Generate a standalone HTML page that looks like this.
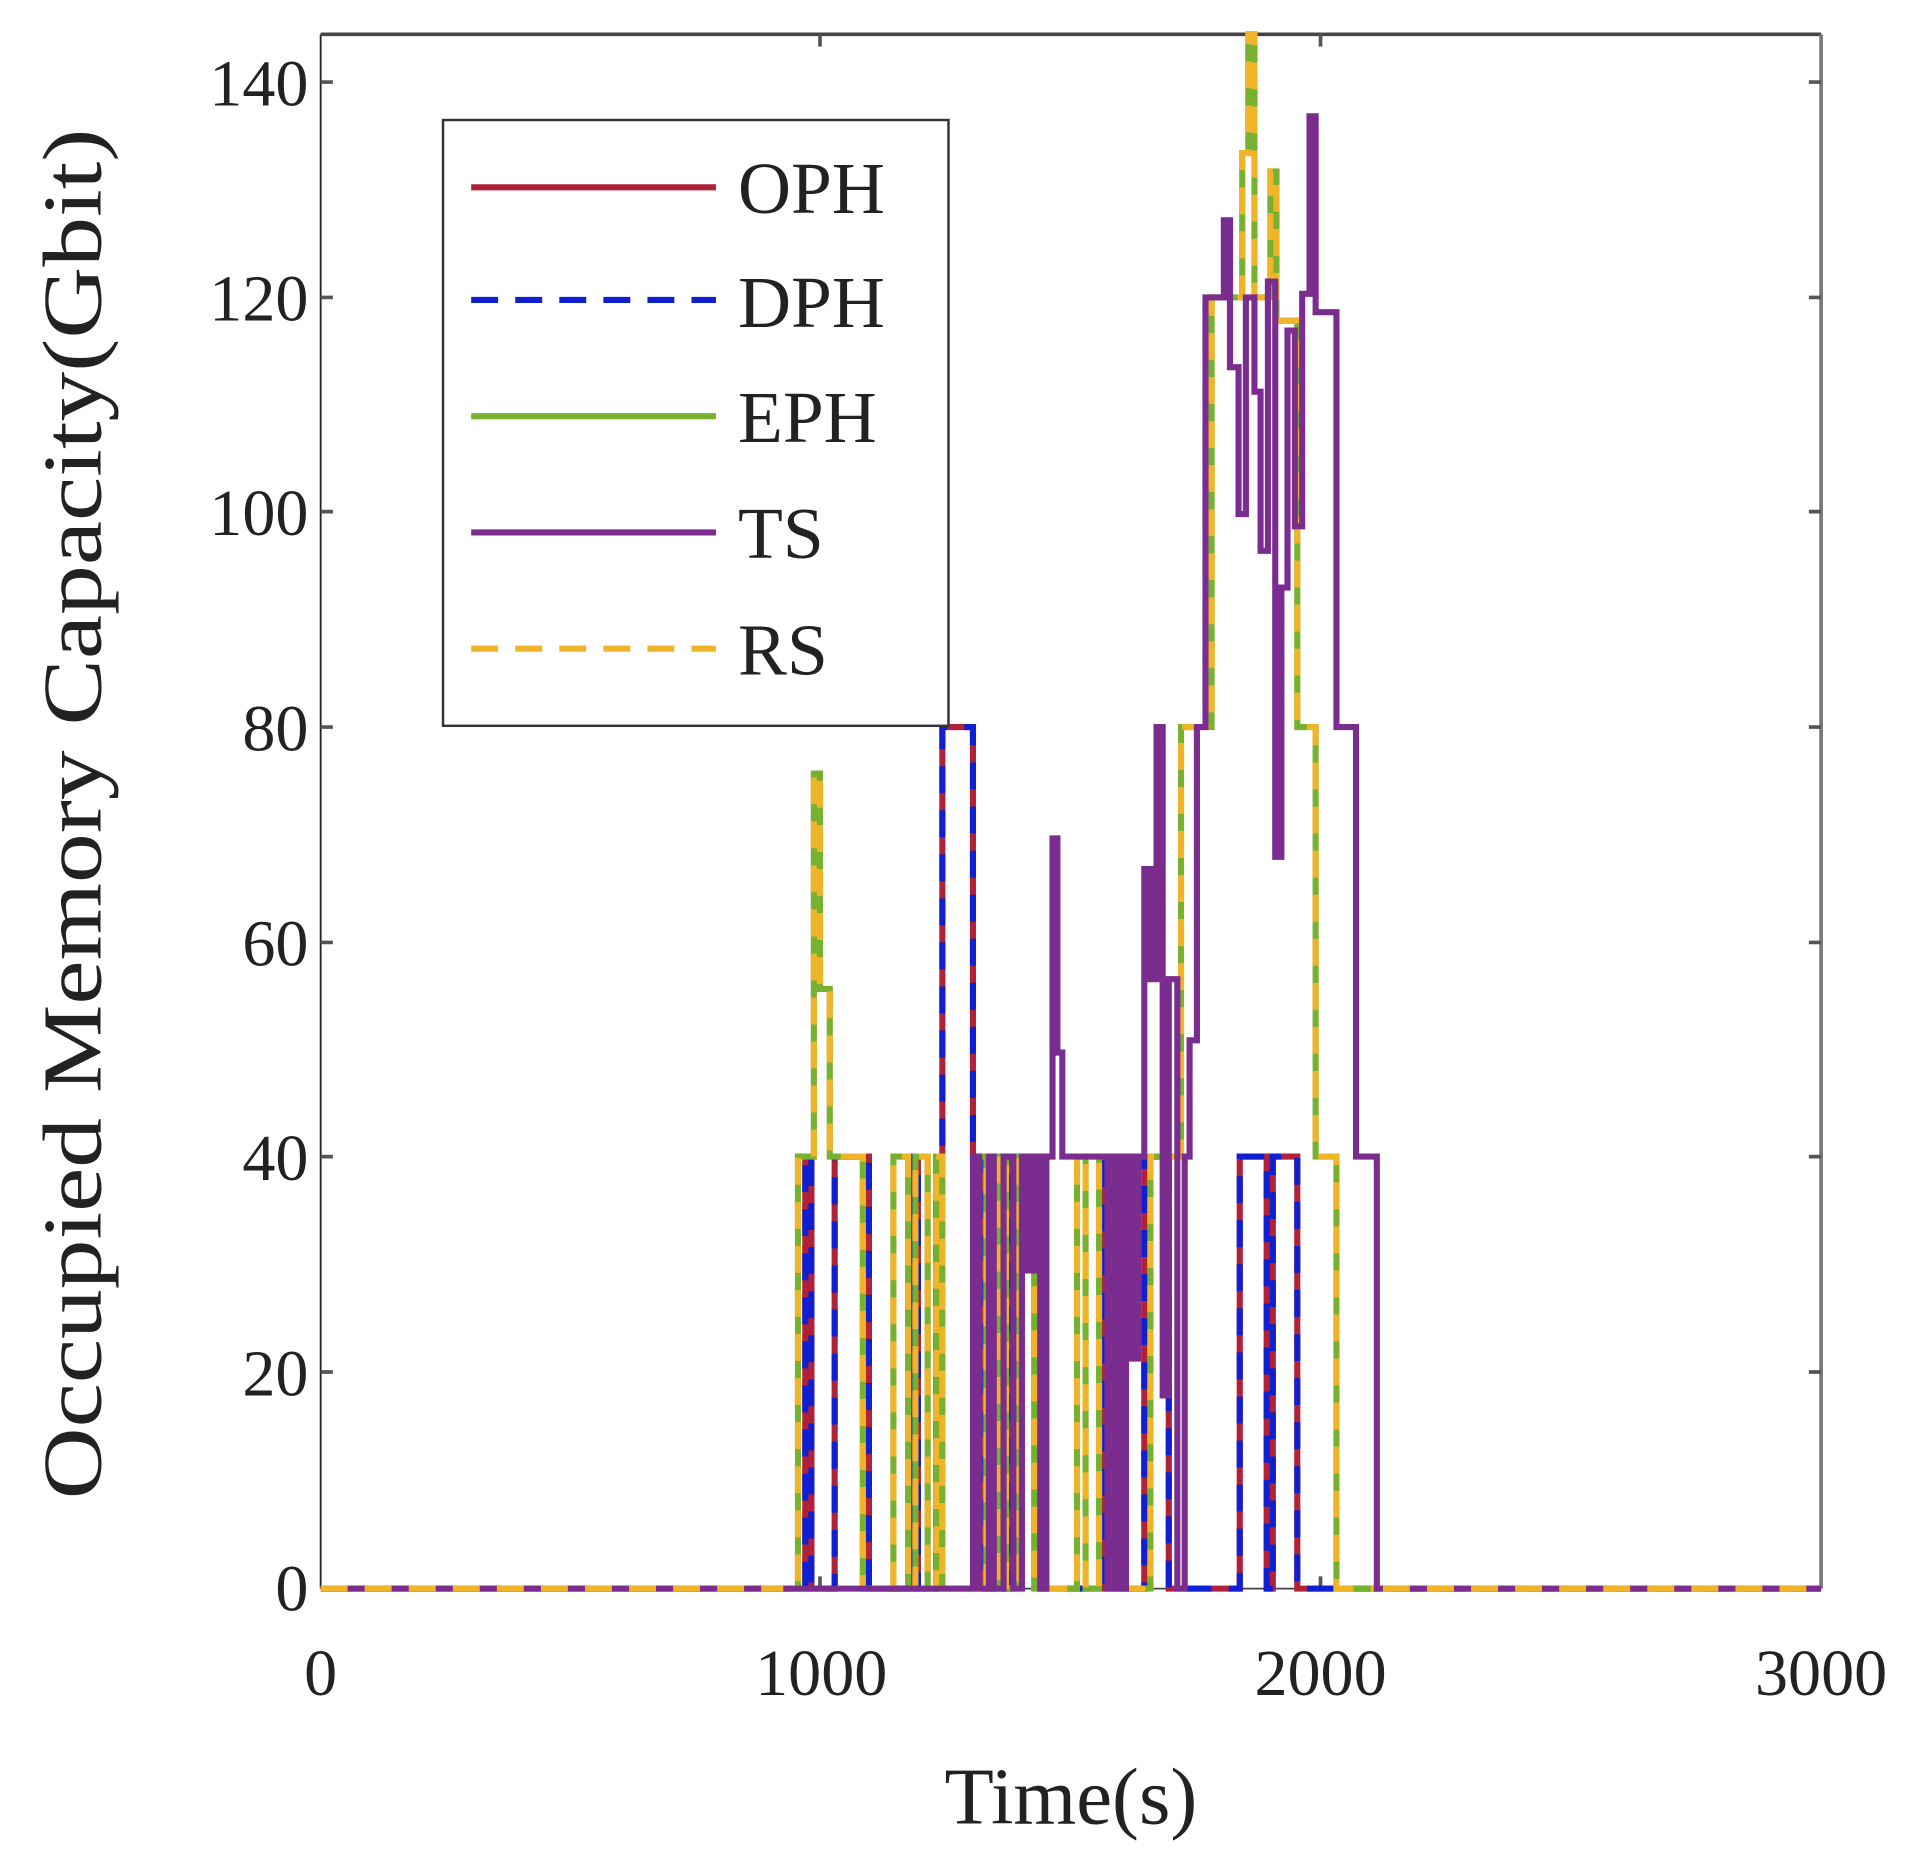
<!DOCTYPE html>
<html><head><meta charset="utf-8"><style>html,body{margin:0;padding:0;background:#fff}svg{display:block}</style></head><body>
<svg width="1919" height="1861" viewBox="0 0 1568 1520.5" xmlns="http://www.w3.org/2000/svg" font-family="'Liberation Serif', serif" fill="none">
<rect x="0" y="0" width="1568" height="1521" fill="#fff"/>
<g stroke="#222" stroke-width="1.5">
<line x1="262" y1="1298" x2="262" y2="28"/>
<line x1="262" y1="1298" x2="1488" y2="1298" stroke="#444"/>
<line x1="262" y1="28" x2="1488" y2="28" stroke="#444" stroke-width="3"/>
<line x1="1488" y1="28" x2="1488" y2="1298" stroke="#777" stroke-width="3"/>
</g>
<g stroke="#555" stroke-width="3">
<path d="M262,1121h10M262,945h10M262,770h10M262,594h10M262,418h10M262,243h10M262,67h10"/>
<path d="M1488,1121h-10M1488,945h-10M1488,770h-10M1488,594h-10M1488,418h-10M1488,243h-10M1488,67h-10"/>
<path d="M670,1298v-10M1079,1298v-10M670,28v10M1079,28v10"/>
</g>
<g fill="#222" font-size="54" text-anchor="end">
<text x="252" y="1316">0</text><text x="252" y="1140">20</text><text x="252" y="964">40</text>
<text x="252" y="789">60</text><text x="252" y="613">80</text><text x="252" y="437">100</text>
<text x="252" y="262">120</text><text x="252" y="86">140</text>
</g>
<g fill="#222" font-size="54" text-anchor="middle">
<text x="262" y="1385">0</text><text x="671" y="1385">1000</text><text x="1079" y="1385">2000</text><text x="1488" y="1385">3000</text>
</g>
<text x="875" y="1490" fill="#222" font-size="66" text-anchor="middle">Time(s)</text>
<text transform="translate(82,665) rotate(-90)" fill="#222" font-size="68" text-anchor="middle" textLength="1120" lengthAdjust="spacingAndGlyphs">Occupied Memory Capacity(Gbit)</text>
<g stroke-width="5" stroke-linejoin="miter">
<path stroke="#b0213a" d="M262,1298H658V945H663V1298H682V945H710V1298H745V945H750V1298H765V945H770V594H795V945H805V1298H812V945H818V1298H825V945H850V1298H900V945H905V1298H935V945H955V1298H1013V945H1035V1298H1040V945H1060V1298H1488"/>
<path stroke="#1020d0" stroke-dasharray="22,14" d="M262,1298H658V945H663V1298H682V945H710V1298H745V945H750V1298H765V945H770V594H795V945H805V1298H812V945H818V1298H825V945H850V1298H900V945H905V1298H935V945H955V1298H1013V945H1035V1298H1040V945H1060V1298H1488"/>
<path stroke="#78b030" d="M262,1298H652V945H665V632H670V808H678V945H705V1298H730V945H742V1298H748V945H758V1298H765V945H770V1298H800V945H806V1298H815V945H822V1298H830V945H845V1298H880V945H887V1298H898V945H905V1298H940V945H965V594H990V243H1015V125H1020V28H1025V243H1038V140H1043V262H1060V594H1075V945H1092V1298H1488"/>
<path stroke="#f0b428" stroke-dasharray="22,14" d="M262,1298H652V945H665V632H670V808H678V945H705V1298H730V945H742V1298H748V945H758V1298H765V945H770V1298H800V945H806V1298H815V945H822V1298H830V945H845V1298H880V945H887V1298H898V945H905V1298H940V945H965V594H990V243H1015V125H1020V28H1025V243H1038V140H1043V262H1060V594H1075V945H1092V1298H1488"/>
<path stroke="#7b2d8f" d="M262,1298H795V945H800V1298H808V945H812V1298H820V945H828V1298H835V945H840V1038H845V945H850V1298H855V945H860V685H864V860H868V945H905V1298H910V945H915V1298H920V945H925V1110H930V945H935V710H940V800H945V594H950V1140H955V800H962V1298H968V945H972V850H978V594H985V243H1000V180H1005V300H1012V420H1018V243H1025V320H1030V450H1036V230H1042V700H1047V480H1052V270H1058V430H1064V240H1070V95H1075V255H1092V594H1108V945H1125V1298H1488"/>
<path stroke="#f0b428" stroke-width="5" stroke-dasharray="22,14" d="M262,1298H640M1130,1298H1488"/>
</g>
<rect x="362" y="98" width="413" height="495" fill="#fff" stroke="#333" stroke-width="2"/>
<g stroke-width="5">
<line x1="385" y1="153" x2="585" y2="153" stroke="#b0213a"/>
<line x1="385" y1="245" x2="585" y2="245" stroke="#1020d0" stroke-dasharray="22,14"/>
<line x1="385" y1="340" x2="585" y2="340" stroke="#78b030"/>
<line x1="385" y1="435" x2="585" y2="435" stroke="#7b2d8f"/>
<line x1="385" y1="530" x2="585" y2="530" stroke="#f0b428" stroke-dasharray="22,14"/>
</g>
<g fill="#222" font-size="60">
<text x="603" y="174">OPH</text><text x="603" y="267">DPH</text><text x="603" y="361">EPH</text>
<text x="603" y="456">TS</text><text x="603" y="551">RS</text>
</g>
</svg>
</body></html>
